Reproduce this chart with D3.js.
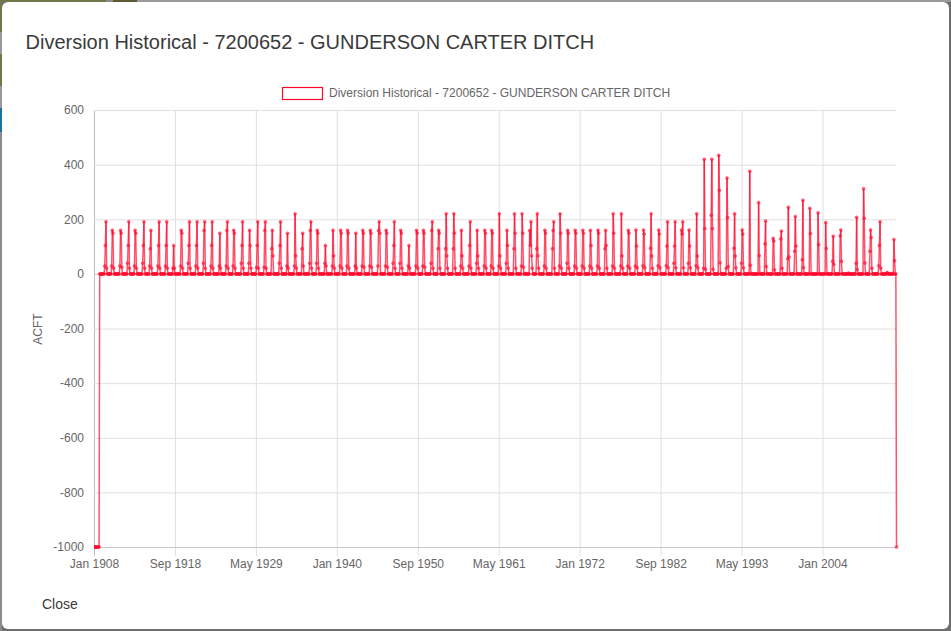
<!DOCTYPE html>
<html><head><meta charset="utf-8">
<script src="https://cdnjs.cloudflare.com/ajax/libs/d3/7.8.5/d3.min.js"></script>
<style>
html,body{margin:0;padding:0;width:951px;height:631px;overflow:hidden;background:#6e6e6e;}
#edge{position:absolute;left:0;top:0;width:951px;height:2px;background:linear-gradient(90deg,#6f7a4a 0,#6f7a4a 106px,#8a8a8a 106px,#8a8a8a 113px,#5d5a30 113px,#5d5a30 137px,#9a9a9a 137px);}
#edgeL{position:absolute;left:0;top:0;width:2px;height:631px;background:linear-gradient(180deg,#6f7a4a 0,#6f7a4a 32px,#999 32px,#999 54px,#6f7a4a 54px,#6f7a4a 86px,#999 86px,#999 108px,#1d6fa5 108px,#1d6fa5 132px,#8c8c8c 132px);}
#modal{position:absolute;left:2px;top:2px;width:947px;height:627px;background:#fff;border-radius:6px;}
svg{position:absolute;left:0;top:0;font-family:"Liberation Sans",Arial,sans-serif;}
</style></head><body>
<div id="edge"></div><div id="edgeL"></div><div id="modal"></div>
<svg id="c" width="951" height="631"></svg>
<script>
const titleText = "Diversion Historical - 7200652 - GUNDERSON CARTER DITCH";
const yAxisLabel = "ACFT";
const closeLabel = "Close";
const seriesColor = "#ff0a2e";
const xTickLabels = ["Jan 1908","Sep 1918","May 1929","Jan 1940","Sep 1950","May 1961","Jan 1972","Sep 1982","May 1993","Jan 2004"];
const yTickValues = [600,400,200,0,-200,-400,-600,-800,-1000];
const firstMonth = "Jan 1908";
const monthCount = 1270;
const missingValue = -1000;
const missingHeadMonths = 9;
const peakMonth = [19,29,42,55,65,79,90,103,115,126,138,151,163,175,187,199,211,221,235,246,259,271,282,295,306,318,330,343,353,366,378,390,401,414,425,437,451,462,475,485,498,510,521,535,545,557,569,581,595,606,618,629,641,653,665,677,691,701,713,727,737,749,761,773,785,797,809,821,834,845,857,869,881,893,907,919,931,941,953,965,977,988,1001,1013,1025,1037,1051,1062,1074,1087,1098,1109,1121,1132,1145,1157,1169,1181,1193,1206,1217,1228,1243,1254,1265];
const twoBefore = [29,0,0,39,0,39,29,29,29,0,0,39,29,39,29,0,29,0,39,0,24,24,0,39,0,0,0,39,0,0,0,0,0,0,0,0,29,0,39,0,0,0,0,39,0,0,0,0,29,0,0,0,0,0,0,0,159,0,0,92,0,0,0,0,0,0,0,0,0,0,0,0,0,0,30,39,161,0,0,0,0,0,0,0,0,0,0,0,0,0,0,0,0,0,0,0,0,0,0,0,0,0,30,0,0];
const oneBefore = [104,29,29,104,29,104,92,104,104,21,29,104,104,159,104,29,159,29,104,39,104,159,92,104,29,29,92,159,39,39,29,29,29,29,29,29,159,29,104,39,29,29,29,159,92,92,92,29,104,39,29,29,29,39,92,29,104,92,29,159,29,39,29,29,29,29,92,29,29,29,29,30,94,30,102,102,146,39,30,21,215,0,21,94,39,0,0,110,0,128,55,83,52,0,0,0,46,139,0,39,0,83,104,0,0];
const peakValue = [191,160,160,191,160,191,160,191,191,104,160,191,191,191,191,149,191,160,191,160,191,191,160,191,149,220,149,191,160,104,160,160,160,149,160,160,191,160,191,160,104,160,160,191,160,220,220,160,191,160,160,160,220,160,220,220,191,220,160,191,220,160,160,160,160,160,160,220,220,160,161,161,220,161,191,191,191,161,220,420,420,434,351,220,161,376,261,194,130,157,244,210,270,240,224,188,138,161,3,207,312,161,191,5,126];
const oneAfter = [21,149,149,21,149,21,21,21,21,21,149,21,21,21,21,21,21,149,21,104,21,21,66,21,21,66,29,21,149,29,66,149,149,21,149,149,149,149,21,149,21,149,149,21,149,66,149,66,21,66,149,149,66,104,149,149,66,66,149,21,149,149,149,149,104,149,104,149,66,149,102,146,65,146,22,22,22,102,65,166,166,306,206,65,146,32,67,27,120,21,62,102,23,148,107,93,35,46,0,16,204,133,21,3,48];
const twoAfter = [0,21,24,0,21,0,0,0,0,0,21,0,0,0,0,0,0,21,0,21,0,0,0,0,0,21,0,0,21,0,21,21,21,0,24,24,0,24,0,21,0,21,24,0,21,21,21,21,0,21,21,21,21,21,21,24,21,21,21,0,21,21,21,21,21,21,21,21,21,21,22,22,21,22,0,0,0,22,22,17,17,41,27,22,22,0,0,0,15,0,0,0,0,0,0,0,0,0,0,0,40,21,0,0,0];

const parseMonth = d3.utcParse("%b %Y"), fmtMonth = d3.utcFormat("%b %Y");
const start = parseMonth(firstMonth);
const values = new Array(monthCount).fill(0);
for (let i = 0; i < missingHeadMonths; i++) values[i] = missingValue;
values[monthCount - 1] = missingValue;
peakMonth.forEach((m, i) => {
  values[m - 2] = twoBefore[i]; values[m - 1] = oneBefore[i]; values[m] = peakValue[i];
  values[m + 1] = oneAfter[i]; values[m + 2] = twoAfter[i];
});
const data = values.map((v, i) => ({date: d3.utcMonth.offset(start, i), v}));

const L = 94, R = 896.5, T = 110, B = 547;
const x = d3.scaleUtc().domain([data[0].date, data[data.length - 1].date]).range([L, R]);
const y = d3.scaleLinear().domain([-1000, 600]).range([B, T]);
const svg = d3.select("#c");
const grid = "#e0e0e0", txt = "#666";

svg.append("clipPath").attr("id", "plot").append("rect")
  .attr("x", L).attr("y", T - 5).attr("width", R - L + 5).attr("height", B - T + 10);

// gridlines and axes
const ax = svg.append("g").attr("transform", `translate(0,${B})`)
  .call(d3.axisBottom(x).tickValues(xTickLabels.map(parseMonth)).tickFormat(fmtMonth).tickSize(9).tickPadding(3));
ax.select(".domain").remove();
ax.selectAll("line").attr("stroke", grid).attr("y1", T - B);
ax.selectAll("text").attr("fill", txt).attr("font-size", 12).attr("font-family", '"Liberation Sans"');
const ay = svg.append("g").attr("transform", `translate(${L},0)`)
  .call(d3.axisLeft(y).tickValues(yTickValues).tickFormat(d => String(d)).tickSize(9).tickPadding(1));
ay.select(".domain").remove();
ay.selectAll("line").attr("stroke", grid).attr("x2", R - L);
ay.selectAll("text").attr("fill", txt).attr("font-size", 12).attr("font-family", '"Liberation Sans"');
ay.selectAll("g.tick").filter(d => d === -1000 || d === 0).select("line").attr("stroke", "#c6c6c6");
ax.selectAll("g.tick").filter((d, i) => i === 0).select("line").attr("stroke", "#bdbdbd");

// series: one translucent stroke per month so up and down strokes build up
const marks = svg.append("g").attr("clip-path", "url(#plot)");
marks.append("g").selectAll("line").data(data.slice(1)).join("line")
  .attr("x1", (d, i) => x(data[i].date)).attr("y1", (d, i) => y(data[i].v))
  .attr("x2", d => x(d.date)).attr("y2", d => y(d.v))
  .attr("stroke", seriesColor).attr("stroke-opacity", .7).attr("stroke-width", 1.5);
marks.append("g").selectAll("circle").data(data).join("circle")
  .attr("cx", d => x(d.date)).attr("cy", d => y(d.v)).attr("r", 1.5)
  .attr("fill", seriesColor).attr("fill-opacity", .6).attr("stroke", seriesColor).attr("stroke-opacity", .6).attr("stroke-width", .6);

// text
svg.append("text").attr("x", 25.5).attr("y", 48.5).attr("fill", "#3a3a3a").attr("font-size", 20).text(titleText);
svg.append("text").attr("x", 42).attr("y", 609).attr("fill", "#3a3a3a").attr("font-size", 14).text(closeLabel);
svg.append("text").attr("transform", "translate(42,329) rotate(-90)").attr("text-anchor", "middle").attr("fill", txt).attr("font-size", 12).text(yAxisLabel);
svg.append("rect").attr("x", 282.5).attr("y", 87.5).attr("width", 40).attr("height", 12).attr("fill", "#fff").attr("stroke", seriesColor).attr("stroke-width", 1.2);
svg.append("text").attr("x", 329).attr("y", 96.5).attr("fill", txt).attr("font-size", 12).text(titleText);
</script></body></html>
